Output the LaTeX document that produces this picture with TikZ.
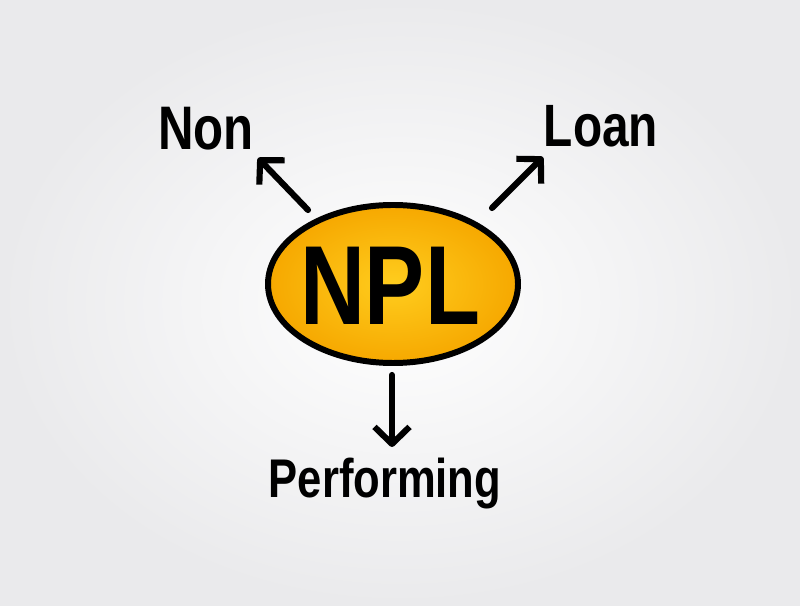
\documentclass[tikz,border=0pt]{standalone}
\usepackage{fontspec}
\newfontfamily\handfont[FakeStretch=0.8]{Liberation Sans}
\usepackage{tikz}
\usetikzlibrary{arrows.meta, shapes.geometric}
\definecolor{nplin}{RGB}{255,205,30}
\definecolor{nplout}{RGB}{246,168,0}
\definecolor{bgout}{RGB}{234,234,236}

\begin{document}
\begin{tikzpicture}[
        hand/.style={font=\handfont\bfseries, text=black, inner sep=0pt},
        blob/.style={ellipse, draw=black, line width=3.4pt, inner color=nplin, outer color=nplout,
                     minimum width=5cm, minimum height=3.16cm, inner sep=0pt},
        pointer/.style={line width=3.5pt, line cap=round, -{Straight Barb[length=3.4mm, width=7mm, line join=round]}}
    ]
                \useasboundingbox (0,0) rectangle (16,12.1);
                \shade[inner color=white, outer color=bgout] (0,0) rectangle (16,12.1);
                % centre ellipse
                \node[blob] (npl) at (7.86,6.42) {};
                \node[hand, font=\handfont\bfseries\fontsize{64}{64}\selectfont] (abbr) at (7.8,6.38) {NPL};
                % words
                \node[hand, font=\handfont\bfseries\fontsize{35}{35}\selectfont] (non) at (4.12,9.52) {Non};
                \node[hand, font=\handfont\bfseries\fontsize{34}{34}\selectfont] (loan) at (12.02,9.58) {Loan};
                \node[hand, font=\handfont\bfseries\fontsize{31}{31}\selectfont] (perf) at (7.7,2.42) {Performing};
                % arrow ends
                \coordinate (nonA) at (6.16,7.9);
                \coordinate (nonB) at (5.16,8.94);
                \coordinate (loanA) at (9.84,7.94);
                \coordinate (loanB) at (10.86,8.96);
                \coordinate (perfA) at (7.84,4.6);
                \coordinate (perfB) at (7.84,3.16);
                \draw[pointer] (nonA) -- (nonB);
                \draw[pointer] (loanA) -- (loanB);
                \draw[pointer] (perfA) -- (perfB);
\end{tikzpicture}
\end{document}
